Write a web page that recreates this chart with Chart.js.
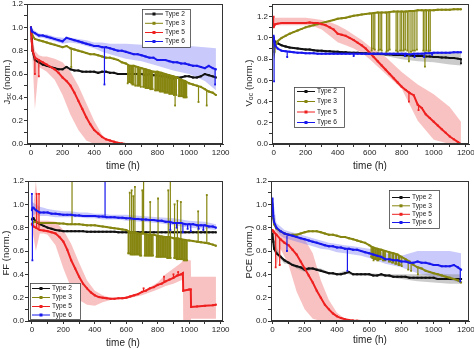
<!DOCTYPE html>
<html><head><meta charset="utf-8">
<script src="https://cdn.jsdelivr.net/npm/chart.js@4.4.1/dist/chart.umd.min.js"></script>
<style>
html,body{margin:0;padding:0;background:#fff}
body{width:474px;height:349px;position:relative;overflow:hidden}
canvas{position:absolute;display:block}
</style></head><body>
<canvas id="c1" width="237" height="175" style="left:0;top:0"></canvas>
<canvas id="c2" width="260" height="175" style="left:237px;top:0"></canvas>
<canvas id="c3" width="237" height="174" style="left:0;top:175px"></canvas>
<canvas id="c4" width="260" height="174" style="left:237px;top:175px"></canvas>
<script>
// ---------- shared grids / labels ----------
const seriesNames = ['Type 2','Type 3','Type 5','Type 6'];
const xTickValues = [0,100,200,300,400,500,600,700,800,900,1000,1100,1200];
const yTickValues = [0,0.1,0.2,0.3,0.4,0.5,0.6,0.7,0.8,0.9,1.0,1.1,1.2];
const yTickValuesVoc = [0,0.1,0.2,0.3,0.4,0.5,0.6,0.7,0.8,0.9,1.0,1.1,1.2,1.3];
const timeGrid = [0,5,10,25,50,75,100,125,150,175,200,225,250,275,300,325,350,375,400,425,450,475,500,525,550,575,600,625,650,675,700,725,750,775,800,825,850,875,900,925,950,975,1000,1025,1050,1075,1100,1125,1150,1170];
const bandGrid = [0,25,50,75,100,150,200,250,300,350,400,450,500,550,600,700,800,900,1000,1100,1170];

// ---------- Jsc ----------
const jscType2 = [1.00,0.90,0.80,0.72,0.70,0.68,0.67,0.66,0.65,0.64,0.64,0.66,0.64,0.63,0.63,0.62,0.62,0.62,0.62,0.61,0.62,0.62,0.61,0.61,0.60,0.60,0.60,0.60,0.60,0.60,0.60,0.59,0.60,0.59,0.59,0.58,0.58,0.57,0.56,0.57,0.57,0.58,0.58,0.57,0.57,0.58,0.60,0.59,0.58,0.57];
const jscType3 = [1.00,0.95,0.93,0.90,0.89,0.88,0.87,0.86,0.85,0.84,0.83,0.84,0.82,0.81,0.80,0.79,0.78,0.77,0.77,0.76,0.75,0.74,0.74,0.73,0.72,0.70,0.69,0.67,0.67,0.66,0.65,0.64,0.63,0.62,0.62,0.61,0.60,0.59,0.58,0.57,0.55,0.54,0.52,0.51,0.50,0.49,0.47,0.45,0.44,0.42];
const jscType3Strips = [[255,0.82,0.66],[612,0.68,0.52],[620,0.675,0.53],[627,0.67,0.53],[635,0.67,0.52],[642,0.67,0.51],[650,0.67,0.51],[660,0.67,0.50],[672,0.66,0.50],[680,0.66,0.50],[687,0.65,0.50],[695,0.65,0.49],[710,0.645,0.49],[717,0.64,0.49],[725,0.64,0.48],[732,0.64,0.48],[740,0.635,0.48],[747,0.63,0.48],[755,0.63,0.47],[762,0.63,0.47],[770,0.625,0.47],[785,0.62,0.46],[792,0.62,0.46],[800,0.62,0.46],[807,0.61,0.46],[815,0.615,0.45],[822,0.61,0.45],[830,0.605,0.45],[837,0.60,0.45],[845,0.60,0.44],[852,0.60,0.44],[860,0.595,0.44],[867,0.59,0.44],[875,0.59,0.43],[882,0.59,0.43],[890,0.585,0.43],[897,0.58,0.43],[905,0.58,0.42],[912,0.58,0.33],[920,0.575,0.42],[935,0.565,0.41],[942,0.56,0.41],[950,0.555,0.41],[957,0.55,0.41],[965,0.545,0.40],[972,0.54,0.40],[978,0.535,0.40],[985,0.53,0.40],[1060,0.50,0.36],[1112,0.46,0.33]];
const jscType5 = [1.00,0.88,0.80,0.74,0.72,0.70,0.68,0.66,0.64,0.61,0.57,0.54,0.50,0.44,0.37,0.30,0.23,0.17,0.12,0.09,0.06,0.04,0.03,0.02,0.01,0.005,0,0,0,0,0,0,0,0,0,0,0,0,0,0,0,0,0,0,0,0,0,0,0,0];
const jscType5Strips = [[25,0.74,0.60],[50,0.72,0.58]];
const jscType5Hi = [1.00,0.80,0.76,0.75,0.75,0.73,0.70,0.62,0.50,0.35,0.20,0.08,0.02,0,0,0,0,0,0,0,0];
const jscType5Lo = [1.00,0.30,0.66,0.64,0.62,0.55,0.42,0.25,0.12,0.03,0,0,0,0,0,0,0,0,0,0,0];
const jscType6 = [1.00,0.97,0.96,0.95,0.93,0.93,0.92,0.91,0.90,0.89,0.88,0.91,0.90,0.89,0.88,0.87,0.86,0.85,0.84,0.84,0.83,0.83,0.82,0.81,0.80,0.80,0.79,0.78,0.77,0.77,0.76,0.75,0.74,0.74,0.72,0.72,0.72,0.71,0.70,0.70,0.69,0.69,0.68,0.67,0.67,0.66,0.65,0.67,0.65,0.64];
const jscType6Strips = [[465,0.83,0.51],[1165,0.64,0.51]];
const jscType6Hi = [1.00,0.97,0.95,0.94,0.94,0.92,0.91,0.91,0.90,0.89,0.87,0.87,0.86,0.86,0.86,0.85,0.85,0.84,0.84,0.83,0.82];
const jscType6Lo = [1.00,0.93,0.91,0.91,0.90,0.88,0.86,0.87,0.86,0.84,0.82,0.79,0.77,0.75,0.73,0.71,0.67,0.63,0.60,0.54,0.46];

// ---------- Voc ----------
const vocType2 = [1.00,0.97,0.96,0.95,0.93,0.92,0.91,0.905,0.90,0.895,0.89,0.89,0.885,0.88,0.88,0.875,0.875,0.87,0.87,0.865,0.865,0.86,0.86,0.86,0.855,0.855,0.85,0.85,0.85,0.85,0.845,0.845,0.84,0.84,0.84,0.835,0.835,0.83,0.83,0.83,0.825,0.825,0.82,0.82,0.815,0.815,0.81,0.81,0.805,0.80];
const vocType2Strips = [[1170,0.80,0.76]];
const vocType2Hi = [1.00,0.96,0.94,0.93,0.92,0.91,0.90,0.895,0.89,0.885,0.88,0.875,0.87,0.865,0.86,0.86,0.86,0.86,0.86,0.86,0.86];
const vocType2Lo = [1.00,0.94,0.92,0.91,0.90,0.89,0.88,0.875,0.87,0.865,0.86,0.855,0.85,0.845,0.84,0.83,0.80,0.78,0.77,0.75,0.74];
const vocType3 = [0.95,0.87,0.92,0.97,1.00,1.02,1.04,1.055,1.07,1.085,1.10,1.11,1.12,1.13,1.14,1.15,1.16,1.17,1.18,1.185,1.19,1.20,1.21,1.215,1.22,1.225,1.23,1.235,1.24,1.24,1.24,1.245,1.25,1.25,1.25,1.25,1.255,1.255,1.26,1.26,1.26,1.26,1.26,1.265,1.265,1.265,1.265,1.27,1.27,1.27];
const vocType3Strips = [[612,1.23,0.88],[622,1.23,0.90],[632,1.235,0.89],[655,1.24,0.88],[665,1.24,0.89],[675,1.24,0.88],[705,1.24,0.87],[715,1.245,0.88],[725,1.245,0.89],[765,1.25,0.88],[775,1.25,0.87],[790,1.25,0.88],[800,1.25,0.88],[812,1.25,0.88],[822,1.25,0.89],[835,1.25,0.88],[845,1.255,0.78],[858,1.255,0.87],[870,1.255,0.88],[882,1.255,0.88],[895,1.26,0.89],[935,1.26,0.88],[945,1.26,0.73],[955,1.26,0.88],[968,1.26,0.87],[978,1.26,0.88]];
const vocType5 = [1.10,1.12,1.13,1.135,1.14,1.14,1.14,1.14,1.14,1.14,1.14,1.145,1.14,1.14,1.13,1.12,1.10,1.08,1.04,1.03,1.02,1.00,0.98,0.955,0.93,0.90,0.86,0.82,0.78,0.74,0.70,0.66,0.62,0.58,0.54,0.51,0.48,0.46,0.37,0.34,0.28,0.245,0.21,0.175,0.14,0.105,0.07,0.045,0.02,0.0];
const vocType5Strips = [[0,1.10,1.20],[845,0.50,0.40],[905,0.37,0.32]];
const vocType5Hi = [1.19,1.19,1.19,1.19,1.19,1.19,1.19,1.18,1.17,1.15,1.12,1.08,1.03,0.98,0.92,0.82,0.68,0.56,0.47,0.35,0.21];
const vocType5Lo = [1.12,1.12,1.12,1.12,1.12,1.12,1.12,1.11,1.08,1.02,0.96,0.93,0.90,0.86,0.80,0.66,0.52,0.22,0.04,0.0,0.0];
const vocType6 = [1.02,0.96,0.93,0.90,0.88,0.875,0.87,0.865,0.86,0.86,0.855,0.855,0.855,0.85,0.85,0.85,0.85,0.85,0.85,0.85,0.85,0.85,0.85,0.85,0.85,0.85,0.85,0.85,0.85,0.85,0.85,0.85,0.85,0.85,0.85,0.85,0.845,0.85,0.85,0.85,0.855,0.855,0.86,0.86,0.86,0.86,0.86,0.865,0.865,0.865];
const vocType6Strips = [[3,1.0,0.59],[85,0.87,0.82],[500,0.85,0.83],[820,0.85,0.83],[880,0.85,0.82],[940,0.855,0.82],[990,0.86,0.84]];

// ---------- FF ----------
const ffType2 = [0.87,0.88,0.88,0.85,0.83,0.815,0.80,0.79,0.78,0.775,0.77,0.77,0.77,0.77,0.77,0.77,0.765,0.765,0.765,0.765,0.765,0.765,0.765,0.765,0.76,0.76,0.76,0.76,0.76,0.76,0.76,0.76,0.76,0.76,0.76,0.76,0.76,0.76,0.76,0.76,0.76,0.76,0.76,0.76,0.76,0.76,0.76,0.76,0.76,0.76];
const ffType3 = [0.83,0.84,0.85,0.85,0.84,0.84,0.84,0.84,0.84,0.835,0.835,0.83,0.83,0.83,0.83,0.825,0.82,0.82,0.82,0.815,0.81,0.805,0.80,0.795,0.79,0.785,0.78,0.76,0.76,0.75,0.75,0.745,0.74,0.74,0.73,0.725,0.72,0.72,0.71,0.71,0.70,0.695,0.69,0.685,0.68,0.675,0.67,0.665,0.655,0.645];
const ffType3Strips = [[612,0.77,0.58],[618,0.765,0.58],[627,0.76,0.57],[635,0.76,0.57],[642,0.76,0.57],[650,0.76,0.57],[657,0.76,0.57],[665,0.755,0.57],[672,0.75,0.57],[680,0.75,0.57],[687,0.75,0.56],[695,0.75,0.56],[717,0.745,0.56],[725,0.745,0.56],[732,0.745,0.56],[740,0.74,0.56],[747,0.74,0.56],[755,0.74,0.56],[762,0.74,0.56],[770,0.74,0.56],[792,0.73,0.55],[800,0.73,0.55],[807,0.73,0.55],[815,0.73,0.55],[822,0.725,0.55],[830,0.725,0.55],[837,0.725,0.55],[845,0.72,0.55],[852,0.72,0.55],[860,0.72,0.54],[867,0.72,0.54],[875,0.72,0.54],[882,0.72,0.54],[905,0.71,0.54],[912,0.71,0.54],[920,0.71,0.53],[927,0.71,0.53],[935,0.705,0.53],[942,0.70,0.53],[950,0.70,0.53],[957,0.70,0.53],[965,0.70,0.52],[972,0.695,0.52],[980,0.69,0.52],[987,0.69,0.52],
  [255,0.83,1.2],[622,0.76,1.10],[634,0.76,1.12],[645,0.76,1.07],[655,0.76,1.15],[702,0.75,1.12],[710,0.75,1.2],[752,0.74,1.02],[802,0.73,1.05],[867,0.72,1.12],[880,0.72,1.2],[907,0.71,1.00],[925,0.71,1.03],[947,0.70,1.02],[1057,0.68,0.94],[1112,0.67,1.08]];
const ffType5Time = [0,5,10,25,50,75,100,125,150,175,200,225,250,275,300,325,350,375,400,425,450,475,500,525,550,575,600,625,650,675,700,725,750,775,800,825,850,875,900,925,950,960,962,1000,1010,1012,1050,1100,1150,1170];
const ffType5 = [0.83,0.82,0.81,0.80,0.78,0.775,0.77,0.76,0.75,0.72,0.68,0.61,0.52,0.45,0.38,0.32,0.28,0.245,0.22,0.205,0.20,0.195,0.19,0.19,0.195,0.195,0.20,0.21,0.22,0.23,0.25,0.26,0.28,0.29,0.31,0.32,0.34,0.355,0.37,0.39,0.40,0.41,0.26,0.27,0.27,0.12,0.125,0.13,0.135,0.14];
const ffType5Strips = [[30,0.80,1.09],[45,0.79,1.09],[710,0.25,0.28],[840,0.33,0.38],[900,0.37,0.40],[930,0.39,0.42]];
const ffBandTime5 = [0,25,50,75,100,150,200,250,300,350,400,450,500,550,600,700,800,850,900,950,960,962,1005,1010,1012,1100,1170];
const ffType5Hi = [0.86,1.2,0.86,0.86,0.86,0.85,0.78,0.66,0.50,0.35,0.26,0.22,0.20,0.20,0.21,0.25,0.33,0.40,0.45,0.50,0.52,0.52,0.52,0.52,0.38,0.38,0.38];
const ffType5Lo = [0.80,0.60,0.75,0.75,0.74,0.65,0.45,0.28,0.18,0.14,0.13,0.16,0.18,0.19,0.19,0.22,0.27,0.30,0.32,0.35,0.36,0.0,0.0,0.0,0.02,0.02,0.02];
const ffType6 = [0.95,0.97,0.97,0.95,0.93,0.93,0.93,0.92,0.92,0.915,0.91,0.91,0.91,0.905,0.905,0.90,0.90,0.90,0.90,0.895,0.895,0.89,0.89,0.89,0.885,0.885,0.88,0.88,0.875,0.875,0.87,0.87,0.865,0.865,0.86,0.86,0.85,0.85,0.84,0.84,0.84,0.83,0.83,0.83,0.82,0.82,0.82,0.81,0.81,0.80];
const ffType6Strips = [[0,0.95,1.09],[3,0.95,0.52],[465,0.90,1.2],[880,0.85,0.78],[920,0.84,0.80],[960,0.84,0.76],[990,0.83,0.79],[1010,0.83,0.77],[1060,0.82,0.79],[1090,0.82,0.78]];
const ffType6Hi = [1.02,1.00,0.98,0.97,0.96,0.95,0.94,0.94,0.93,0.93,0.92,0.92,0.91,0.91,0.91,0.90,0.89,0.88,0.86,0.85,0.83];
const ffType6Lo = [0.90,0.92,0.90,0.90,0.90,0.89,0.89,0.89,0.89,0.88,0.88,0.87,0.87,0.87,0.86,0.85,0.84,0.82,0.80,0.79,0.78];

// ---------- PCE ----------
const pceType2 = [0.75,0.68,0.62,0.58,0.55,0.52,0.50,0.48,0.47,0.46,0.44,0.45,0.45,0.44,0.43,0.42,0.41,0.41,0.40,0.40,0.41,0.42,0.40,0.40,0.40,0.40,0.40,0.39,0.39,0.40,0.39,0.39,0.38,0.38,0.38,0.38,0.37,0.37,0.37,0.37,0.37,0.37,0.37,0.36,0.36,0.36,0.36,0.36,0.36,0.36];
const pceType2Hi = [0.76,0.63,0.57,0.53,0.51,0.48,0.46,0.46,0.45,0.42,0.41,0.43,0.41,0.41,0.41,0.40,0.40,0.40,0.41,0.40,0.40];
const pceType2Lo = [0.74,0.57,0.53,0.49,0.49,0.45,0.42,0.44,0.42,0.40,0.39,0.41,0.39,0.39,0.39,0.38,0.36,0.34,0.33,0.32,0.32];
const pceType3 = [1.00,0.88,0.83,0.79,0.77,0.75,0.74,0.74,0.74,0.75,0.76,0.77,0.77,0.77,0.76,0.75,0.74,0.74,0.73,0.72,0.72,0.71,0.70,0.69,0.68,0.67,0.65,0.63,0.62,0.61,0.60,0.59,0.58,0.57,0.55,0.53,0.51,0.48,0.46,0.45,0.43,0.42,0.41,0.40,0.39,0.38,0.37,0.36,0.35,0.33];
const pceType3Strips = [[612,0.64,0.55],[620,0.635,0.54],[627,0.63,0.52],[635,0.625,0.53],[642,0.62,0.53],[650,0.62,0.52],[657,0.62,0.52],[665,0.615,0.53],[672,0.61,0.53],[685,0.605,0.52],[692,0.60,0.52],[700,0.60,0.52],[722,0.59,0.51],[730,0.585,0.51],[742,0.58,0.50],[750,0.575,0.50],[762,0.57,0.49],[770,0.565,0.49],[782,0.56,0.48],[790,0.555,0.48],[802,0.55,0.47],[842,0.51,0.44],[860,0.49,0.43],[902,0.46,0.40]];
const pceType5 = [0.78,0.77,0.76,0.74,0.70,0.67,0.65,0.61,0.57,0.51,0.45,0.39,0.33,0.26,0.20,0.14,0.10,0.065,0.04,0.025,0.015,0.008,0.004,0.002,0,0,0,0,0,0,0,0,0,0,0,0,0,0,0,0,0,0,0,0,0,0,0,0,0,0];
const pceType5Strips = [[20,0.75,0.46],[45,0.71,0.48]];
const pceType5Hi = [0.78,0.78,0.77,0.76,0.75,0.73,0.70,0.58,0.35,0.18,0.07,0.02,0.005,0,0,0,0,0,0,0,0];
const pceType5Lo = [0.78,0.46,0.62,0.55,0.48,0.25,0.10,0.02,0,0,0,0,0,0,0,0,0,0,0,0,0];
const pceType6 = [1.05,0.90,0.85,0.80,0.77,0.75,0.74,0.73,0.72,0.71,0.70,0.69,0.68,0.67,0.66,0.65,0.64,0.64,0.63,0.63,0.62,0.62,0.61,0.61,0.60,0.59,0.58,0.57,0.56,0.55,0.53,0.53,0.52,0.52,0.51,0.51,0.50,0.50,0.51,0.50,0.50,0.49,0.48,0.48,0.47,0.47,0.47,0.48,0.46,0.44];
const pceType6Strips = [[90,0.73,0.60],[465,0.62,0.43],[1165,0.44,0.34]];
const pceType6Hi = [1.08,0.84,0.81,0.78,0.77,0.75,0.73,0.71,0.69,0.67,0.66,0.65,0.64,0.63,0.62,0.58,0.56,0.60,0.60,0.60,0.58];
const pceType6Lo = [1.00,0.77,0.73,0.71,0.70,0.68,0.66,0.64,0.62,0.61,0.59,0.58,0.57,0.56,0.54,0.49,0.46,0.41,0.38,0.35,0.33];

// ---------- styling ----------
const FONT = '"Liberation Sans", Arial, sans-serif';
const C2 = '#111111', C3 = '#85850f', C5 = '#ee2020', C6 = '#1818ee';
const seriesColors = [C2, C3, C5, C6];
const BAND_GRAY = 'rgba(140,140,140,0.45)';
const BAND_RED = 'rgba(242,120,120,0.45)';
const BAND_BLUE = 'rgba(120,120,245,0.40)';

function pts(t, v){ return t.map((x,i)=>({x:x, y:v[i]})); }
function stripPts(arr){ const o=[]; arr.forEach(s=>{ o.push({x:s[0],y:s[1]},{x:s[0],y:s[2]},{x:s[0],y:null}); }); return o; }
function line(data, color, order){
  return {data, borderColor:color, backgroundColor:color, borderWidth:2, pointRadius:1.4, pointStyle:'rect',
          pointBorderWidth:0, pointBackgroundColor:color, fill:false, order, tension:0};
}
function strip(arr, color, order){
  return {data:stripPts(arr), borderColor:color, backgroundColor:color, borderWidth:1.2,
          pointRadius:(c)=> (c.dataIndex%3===1 ? 1.3 : 0), pointStyle:'rect', pointBorderWidth:0,
          pointBackgroundColor:color, fill:false, order, spanGaps:false};
}
function band(t, hi, lo, color){
  return [
    {data:pts(t,hi), borderWidth:0, borderColor:'rgba(0,0,0,0)', pointRadius:0, fill:false, order:10},
    {data:pts(t,lo), borderWidth:0, borderColor:'rgba(0,0,0,0)', pointRadius:0, fill:'-1', backgroundColor:color, order:10}
  ];
}

function drawYTitle(ctx, x, yc, parts){
  ctx.save(); ctx.translate(x, yc); ctx.rotate(-Math.PI/2);
  ctx.fillStyle = '#222'; ctx.textBaseline = 'middle'; ctx.textAlign = 'left';
  let w = 0;
  parts.forEach(p=>{ ctx.font = (p[1] ? '7px ' : '9.5px ') + FONT; w += ctx.measureText(p[0]).width; });
  let cx = -w/2;
  parts.forEach(p=>{ ctx.font = (p[1] ? '7px ' : '9.5px ') + FONT; ctx.fillText(p[0], cx, p[1] ? 2.5 : 0); cx += ctx.measureText(p[0]).width; });
  ctx.restore();
}
function drawLegend(ctx, lg){
  ctx.save();
  ctx.fillStyle = '#fff'; ctx.fillRect(lg.x0, lg.y0, lg.x1-lg.x0, lg.y1-lg.y0);
  ctx.strokeStyle = '#444'; ctx.lineWidth = 0.8; ctx.strokeRect(lg.x0+0.5, lg.y0+0.5, lg.x1-lg.x0, lg.y1-lg.y0);
  seriesNames.forEach((name, i)=>{
    const y = lg.rows[i], c = seriesColors[i];
    ctx.strokeStyle = c; ctx.lineWidth = 1;
    ctx.beginPath(); ctx.moveTo(lg.lx0, y); ctx.lineTo(lg.lx1, y); ctx.stroke();
    ctx.fillStyle = c; ctx.fillRect((lg.lx0+lg.lx1)/2-1.5, y-1.5, 3, 3);
    ctx.fillStyle = '#222'; ctx.font = '6.6px ' + FONT; ctx.textBaseline = 'middle'; ctx.textAlign = 'left';
    ctx.fillText(name, lg.tx, y);
  });
  ctx.restore();
}

function makeChart(id, cfg){
  const deco = {
    id:'deco'+id,
    afterDraw(chart){
      const ctx = chart.ctx, a = chart.chartArea;
      ctx.save();
      ctx.strokeStyle = '#333'; ctx.lineWidth = 1;
      ctx.strokeRect(Math.round(a.left)+0.5, Math.round(a.top)+0.5, Math.round(a.right-a.left)-1, Math.round(a.bottom-a.top)-1);
      ctx.fillStyle = '#222'; ctx.font = '10px ' + FONT; ctx.textAlign = 'center'; ctx.textBaseline = 'middle';
      ctx.fillText('time (h)', cfg.xtX, cfg.xtY);
      ctx.restore();
      drawYTitle(ctx, cfg.ytX, cfg.ytY, cfg.ytParts);
      drawLegend(ctx, cfg.legend);
    }
  };
  const tickFont = {family: FONT, size: 8};
  new Chart(document.getElementById(id), {
    type:'line',
    data:{datasets: cfg.datasets},
    options:{
      responsive:false, animation:false, events:[],
      layout:{padding:{left:0, top:cfg.T, right:cfg.W-cfg.R, bottom:0}},
      plugins:{legend:{display:false}, tooltip:{enabled:false}},
      scales:{
        x:{type:'linear', min:cfg.xmin, max:cfg.xmax,
           afterFit:(s)=>{ s.height = cfg.H - cfg.B; s.paddingLeft = 0; s.paddingRight = 0; },
           afterBuildTicks:(s)=>{ s.ticks = xTickValues.map(v=>({value:v})); },
           ticks:{autoSkip:false, minRotation:0, maxRotation:0, padding:1, font:tickFont, color:'#222',
                  callback:(v)=> (v % 200 === 0 ? String(v) : '')},
           grid:{drawOnChartArea:false, tickLength:3, color:'#333'}, border:{color:'#333'}},
        y:{type:'linear', min:0, max:cfg.ymax,
           afterFit:(s)=>{ s.width = cfg.L; s.paddingTop = 0; s.paddingBottom = 0; },
           afterBuildTicks:(s)=>{ s.ticks = cfg.yTicks.map(v=>({value:v})); },
           ticks:{autoSkip:false, padding:1, font:tickFont, color:'#222',
                  callback:(v)=> (Math.round(v*10) % 2 === 0 ? Number(v).toFixed(1) : '')},
           grid:{drawOnChartArea:false, tickLength:3, color:'#333'}, border:{color:'#333'}}
      }
    },
    plugins:[deco]
  });
}

// ---------- Panel 1: Jsc ----------
makeChart('c1', {
  W:237, H:175, L:27, R:223, T:4, B:144, xmin:-25, xmax:1215, ymax:1.2, yTicks:yTickValues,
  xtX:123, xtY:166, ytX:7, ytY:82, ytParts:[['J',0],['sc',1],[' (norm.)',0]],
  legend:{x0:142,y0:9,x1:190,y1:47, rows:[14,23.3,32.5,41.5], lx0:145, lx1:163, tx:165},
  datasets:[
    ...band(bandGrid, jscType6Hi, jscType6Lo, BAND_BLUE),
    ...band(bandGrid, jscType5Hi, jscType5Lo, BAND_RED),
    line(pts(timeGrid, jscType2), C2, 4),
    line(pts(timeGrid, jscType3), C3, 3), strip(jscType3Strips, C3, 3),
    line(pts(timeGrid, jscType5), C5, 2), strip(jscType5Strips, C5, 2),
    line(pts(timeGrid, jscType6), C6, 1), strip(jscType6Strips, C6, 1)
  ]
});

// ---------- Panel 2: Voc ----------
makeChart('c2', {
  W:260, H:175, L:35, R:232.3, T:2, B:144, xmin:-10, xmax:1222, ymax:1.32, yTicks:yTickValuesVoc,
  xtX:133, xtY:166, ytX:12, ytY:83, ytParts:[['V',0],['oc',1],[' (norm.)',0]],
  legend:{x0:57,y0:87,x1:107,y1:127, rows:[91.5,101.5,112,122.5], lx0:60, lx1:78, tx:80},
  datasets:[
    ...band(bandGrid, vocType2Hi, vocType2Lo, BAND_GRAY),
    ...band(bandGrid, vocType5Hi, vocType5Lo, BAND_RED),
    line(pts(timeGrid, vocType2), C2, 4), strip(vocType2Strips, C2, 4),
    line(pts(timeGrid, vocType3), C3, 3), strip(vocType3Strips, C3, 3),
    line(pts(timeGrid, vocType5), C5, 2), strip(vocType5Strips, C5, 2),
    line(pts(timeGrid, vocType6), C6, 1), strip(vocType6Strips, C6, 1)
  ]
});

// ---------- Panel 3: FF ----------
makeChart('c3', {
  W:237, H:174, L:28, R:223, T:6, B:146, xmin:-25, xmax:1215, ymax:1.2, yTicks:yTickValues,
  xtX:123, xtY:168, ytX:6, ytY:78, ytParts:[['FF (norm.)',0]],
  legend:{x0:30,y0:108,x1:80,y1:144, rows:[113.5,122.5,131.5,140], lx0:32, lx1:50, tx:52},
  datasets:[
    ...band(bandGrid, ffType6Hi, ffType6Lo, BAND_BLUE),
    ...band(ffBandTime5, ffType5Hi, ffType5Lo, BAND_RED),
    line(pts(timeGrid, ffType2), C2, 4),
    line(pts(timeGrid, ffType3), C3, 3), strip(ffType3Strips, C3, 3),
    line(pts(ffType5Time, ffType5), C5, 2), strip(ffType5Strips, C5, 2),
    line(pts(timeGrid, ffType6), C6, 1), strip(ffType6Strips, C6, 1)
  ]
});

// ---------- Panel 4: PCE ----------
makeChart('c4', {
  W:260, H:174, L:34, R:232.3, T:6, B:146, xmin:-9, xmax:1221, ymax:1.2, yTicks:yTickValues,
  xtX:133, xtY:165, ytX:12, ytY:77, ytParts:[['PCE (norm.)',0]],
  legend:{x0:152,y0:15,x1:202,y1:53, rows:[22.5,30.8,39.3,47.5], lx0:155, lx1:173, tx:175},
  datasets:[
    ...band(bandGrid, pceType2Hi, pceType2Lo, BAND_GRAY),
    ...band(bandGrid, pceType6Hi, pceType6Lo, BAND_BLUE),
    ...band(bandGrid, pceType5Hi, pceType5Lo, BAND_RED),
    line(pts(timeGrid, pceType2), C2, 4),
    line(pts(timeGrid, pceType3), C3, 3), strip(pceType3Strips, C3, 3),
    line(pts(timeGrid, pceType5), C5, 2), strip(pceType5Strips, C5, 2),
    line(pts(timeGrid, pceType6), C6, 1), strip(pceType6Strips, C6, 1)
  ]
});
</script>
</body></html>
